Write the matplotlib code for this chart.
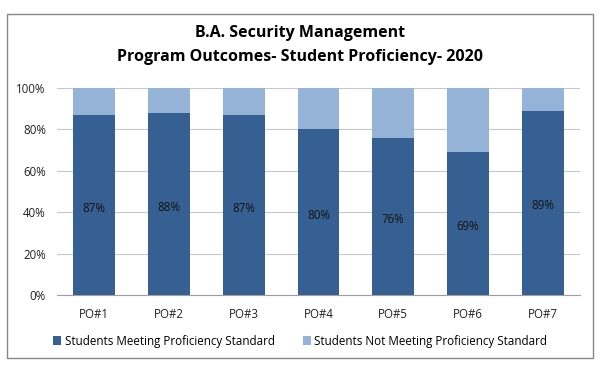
import numpy as np
import matplotlib.pyplot as plt
from matplotlib.patches import Rectangle
from matplotlib.ticker import PercentFormatter

plt.rcParams['font.family'] = ['Open Sans', 'DejaVu Sans']

outcomes = ['PO#1', 'PO#2', 'PO#3', 'PO#4', 'PO#5', 'PO#6', 'PO#7']
meeting = [87, 88, 87, 80, 76, 69, 89]
not_meeting = [100 - m for m in meeting]

dark = '#376092'
light = '#95B3D7'

fig = plt.figure(figsize=(6, 3.67), dpi=100)
fig.patches.append(Rectangle((7/600, 1 - 358/367), 586/600, 344/367,
                             transform=fig.transFigure, fill=False,
                             edgecolor='#888888', linewidth=1))

ax = fig.add_axes([57/600, 1 - 295/367, 523/600, 207/367])
x = np.arange(len(outcomes))
ax.bar(x, meeting, width=0.56, color=dark, label='Students Meeting Proficiency Standard', zorder=3)
ax.bar(x, not_meeting, width=0.56, bottom=meeting, color=light,
       label='Students Not Meeting Proficiency Standard', zorder=3)

for xi, m in zip(x, meeting):
    ax.text(xi, m / 2 - 1.5, f'{m}%', ha='center', va='center', fontsize=8.3, color='#111111', zorder=4)

ax.set_xlim(-0.5, len(outcomes) - 0.5)
ax.set_ylim(0, 100)
ax.set_yticks(range(0, 101, 20))
ax.yaxis.set_major_formatter(PercentFormatter(decimals=0))
ax.set_xticks(x)
ax.set_xticklabels(outcomes)
ax.tick_params(axis='both', length=0, labelsize=8.3, colors='#222222')
ax.tick_params(axis='x', pad=9)
ax.tick_params(axis='y', pad=8)
ax.grid(axis='y', color='#c8c8c8', linewidth=0.8, zorder=0)
for s in ['top', 'right', 'left']:
    ax.spines[s].set_visible(False)
ax.spines['bottom'].set_color('#a0a0a0')

fig.text(0.5, 1 - 33/367, 'B.A. Security Management', ha='center', va='center',
         fontsize=11.5, fontweight='bold')
fig.text(0.5, 1 - 57/367, 'Program Outcomes- Student Proficiency- 2020', ha='center',
         va='center', fontsize=11.5, fontweight='bold')

fig.legend(loc='center', bbox_to_anchor=(0.5, 1 - 341/367), ncol=2, frameon=False,
           fontsize=8.4, handlelength=0.7, handleheight=0.7, handletextpad=0.3,
           columnspacing=2.4)

fig.savefig('out.png', dpi=100)
